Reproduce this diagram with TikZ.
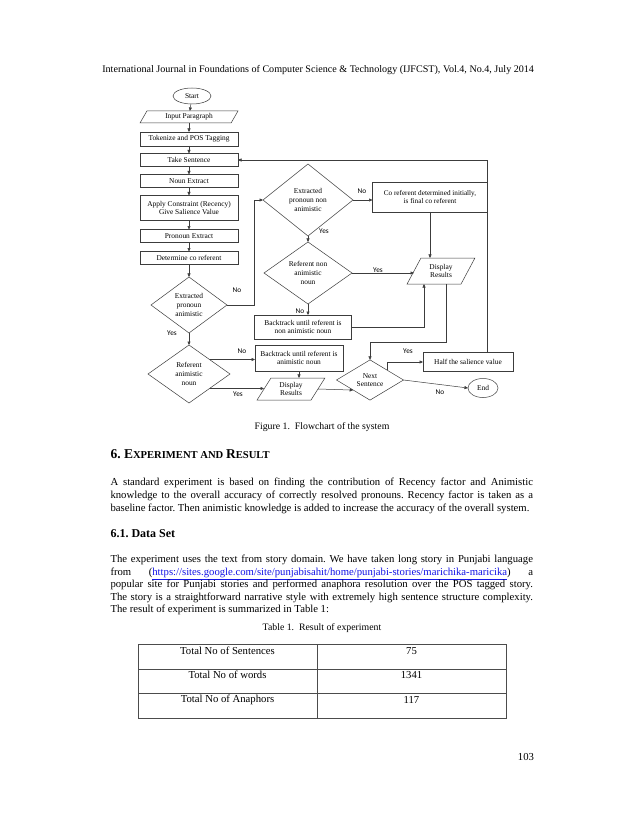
\documentclass[tikz,border=0pt]{standalone}
\usepackage{fontspec}
\setmainfont{Liberation Serif}
\newfontfamily\lblfont{Carlito}
\usetikzlibrary{shapes.geometric,arrows.meta,calc}
\definecolor{linkblue}{RGB}{20,20,230}
\definecolor{lnc}{RGB}{60,60,60}
\frenchspacing
\newcommand\bodyf{\fontsize{10.7}{12.5}\selectfont}
\newcommand\jline[3]{\node[anchor=base west,font=\bodyf] (#1) at (110.5,#2) {\makebox[422.5pt][s]{#3}};}
\newcommand\lline[3]{\node[anchor=base west,font=\bodyf] (#1) at (110.5,#2) {#3};}
\begin{document}
\begin{tikzpicture}[x=1pt,y=-1pt,
  every node/.style={inner sep=0pt,outer sep=0pt},
  fc/.style={font=\fontsize{7.4}{8.6}\selectfont,align=center,draw=lnc,line width=0.5pt},
  proc/.style={fc,rectangle,minimum width=98pt,minimum height=13pt},
  io/.style={fc,trapezium,trapezium left angle=60,trapezium right angle=120,trapezium stretches=true},
  dec/.style={fc,diamond},
  term/.style={fc,ellipse,minimum width=38pt,minimum height=16pt},
  lbl/.style={font=\lblfont\fontsize{7.3}{8}\selectfont},
  arr/.style={draw=lnc,line width=0.5pt,-{Triangle[length=3.5pt,width=3pt]}},
  ln/.style={draw=black!70,line width=0.5pt}]
\useasboundingbox (0,0) rectangle (638,826);
\fill[white] (0,0) rectangle (638,826);

% header
\node[anchor=base east,font=\fontsize{10.1}{12}\selectfont] (hdr) at (534,73) {International Journal in Foundations of Computer Science \& Technology (IJFCST), Vol.4, No.4, July 2014};

% flowchart
\node[term] (start) at (192,96) {Start};
\node[io,minimum width=98pt,minimum height=12pt] (inp) at (189,117) {Input Paragraph};
\node[proc,minimum height=14pt] (tok) at (189,139) {Tokenize and POS Tagging};
\node[proc] (take) at (189,160) {Take Sentence};
\node[proc] (noun) at (189,181) {Noun Extract};
\node[proc,minimum height=25pt] (apply) at (189,208) {Apply Constraint (Recency)\\Give Salience Value};
\node[proc] (pron) at (189,236) {Pronoun Extract};
\node[proc] (det) at (189,258) {Determine co referent};
\node[dec,minimum width=76pt,minimum height=56pt] (d1) at (189,305) {Extracted\\pronoun\\animistic};
\node[dec,minimum width=82pt,minimum height=58pt] (d2) at (189,374) {Referent\\animistic\\noun};
\node[dec,minimum width=90pt,minimum height=72pt] (d3) at (308,200) {Extracted\\pronoun non\\animistic};
\node[proc,minimum width=115pt,minimum height=30pt,font=\fontsize{7.2}{8.6}\selectfont] (co) at (430,197) {Co referent determined initially,\\is final co referent};
\node[dec,minimum width=88pt,minimum height=62pt] (d4) at (308,273) {Referent non\\animistic\\noun};
\node[io,minimum width=68pt,minimum height=26pt] (dr1) at (441,271) {Display\\Results};
\node[proc,minimum width=97pt,minimum height=24pt] (bt1) at (303,327) {Backtrack until referent is\\non animistic noun};
\node[proc,minimum width=88pt,minimum height=26pt] (bt2) at (299,358) {Backtrack until referent is\\animistic noun};
\node[io,minimum width=68pt,minimum height=22pt] (dr2) at (291,389) {Display\\Results};
\node[dec,minimum width=67pt,minimum height=40pt] (ns) at (370,380) {Next\\Sentence};
\node[proc,minimum width=90pt,minimum height=19pt] (half) at (468,362) {Half the salience value};
\node[term,minimum width=30pt,minimum height=19pt] (end) at (483,388) {End};

\draw[arr] (start) -- (inp);
\draw[arr] (inp) -- (tok);
\draw[arr] (tok) -- (take);
\draw[arr] (take) -- (noun);
\draw[arr] (noun) -- (apply);
\draw[arr] (apply) -- (pron);
\draw[arr] (pron) -- (det);
\draw[arr] (det) -- (d1);
\draw[arr] (d1) -- (d2);
\draw[arr] (d1.east) -- (254,305) |- (d3.west);
\draw[arr] (d3.east) -- (co.west |- d3.east);
\draw[arr] (d3) -- (d4);
\draw[arr] (d4.east) -- (dr1.west |- d4.east);
\draw[arr] (co.south) -- (co.south |- dr1.north);
\draw[arr] (d4.south) -- (d4.south |- bt1.north);
\draw[arr] (bt1.east) -| ($(dr1.south)+(-17,0)$);
\draw[arr] ($(dr1.south)+(5,0)$) -- ++(0,58) -| (ns.north);
\draw[arr] (d2.north east) -- (bt2.west |- d2.north east);
\draw[arr] (d2.south east) -- (dr2.west |- d2.south east);
\draw[arr] (bt2.south) -- (bt2.south |- dr2.north);
\draw[arr] (dr2.east) -- (ns.south west);
\draw[arr] (ns.north east) |- (half.west);
\draw[arr] (ns.east) -- (end.west);
\draw[arr] ($(half.north)+(19,0)$) |- (take.east);

\node[lbl] (lno1) at (237,290) {No};
\node[lbl] (lyes1) at (172,333) {Yes};
\node[lbl] (lno2) at (362,191) {No};
\node[lbl] (lyes2) at (324,231) {Yes};
\node[lbl] (lyes3) at (378,270) {Yes};
\node[lbl] (lno3) at (300,311) {No};
\node[lbl] (lno4) at (242,351) {No};
\node[lbl] (lyes4) at (238,394) {Yes};
\node[lbl] (lyes5) at (408,351) {Yes};
\node[lbl] (lno5) at (440,392) {No};

% caption
\node[font=\fontsize{9.8}{11}\selectfont] (cap) at (322,427.5) {Figure 1.\ \ Flowchart of the system};

% heading
\node[anchor=base west] (h6) at (110.5,458) {\bfseries\fontsize{13.5}{16}\selectfont 6. E{\fontsize{10.6}{13}\selectfont XPERIMENT AND }R{\fontsize{10.6}{13}\selectfont ESULT}};

\jline{p1}{485.5}{A standard experiment is based on finding the contribution of Recency factor and Animistic}
\jline{p2}{498.5}{knowledge to the overall accuracy of correctly resolved pronouns. Recency factor is taken as a}
\lline{p3}{511.5}{baseline factor. Then animistic knowledge is added to increase the accuracy of the overall system.}

\node[anchor=base west] (h61) at (110.5,537.5) {\bfseries\fontsize{12}{14}\selectfont 6.1. Data Set};

\jline{q1}{562.5}{The experiment uses the text from story domain. We have taken long story in Punjabi language}
\jline{q2}{575}{from (\textcolor{linkblue}{\underline{https://sites.google.com/site/punjabisahit/home/punjabi-stories/marichika-maricika}}) a}
\jline{q3}{587.5}{popular site for Punjabi stories and performed anaphora resolution over the POS tagged story.}
\jline{q4}{600}{The story is a straightforward narrative style with extremely high sentence structure complexity.}
\lline{q5}{612.5}{The result of experiment is summarized in Table 1:}

\node[font=\fontsize{9.8}{11}\selectfont] (tcap) at (322,628) {Table 1.\ \ Result of experiment};

% table
\draw[ln] (138,644) rectangle (506,718);
\draw[ln] (138,669) -- (506,669);
\draw[ln] (138,693) -- (506,693);
\draw[ln] (317,644) -- (317,718);
\node[font=\bodyf] (c11) at (227.5,651) {Total No of Sentences};
\node[font=\bodyf] (c12) at (411.5,651) {75};
\node[font=\bodyf] (c21) at (227.5,675) {Total No of words};
\node[font=\bodyf] (c22) at (411.5,675) {1341};
\node[font=\bodyf] (c31) at (227.5,700) {Total No of Anaphors};
\node[font=\bodyf] (c32) at (411.5,700) {117};

\node[font=\bodyf,anchor=east] (pg) at (534,757) {103};
\end{tikzpicture}
\end{document}
